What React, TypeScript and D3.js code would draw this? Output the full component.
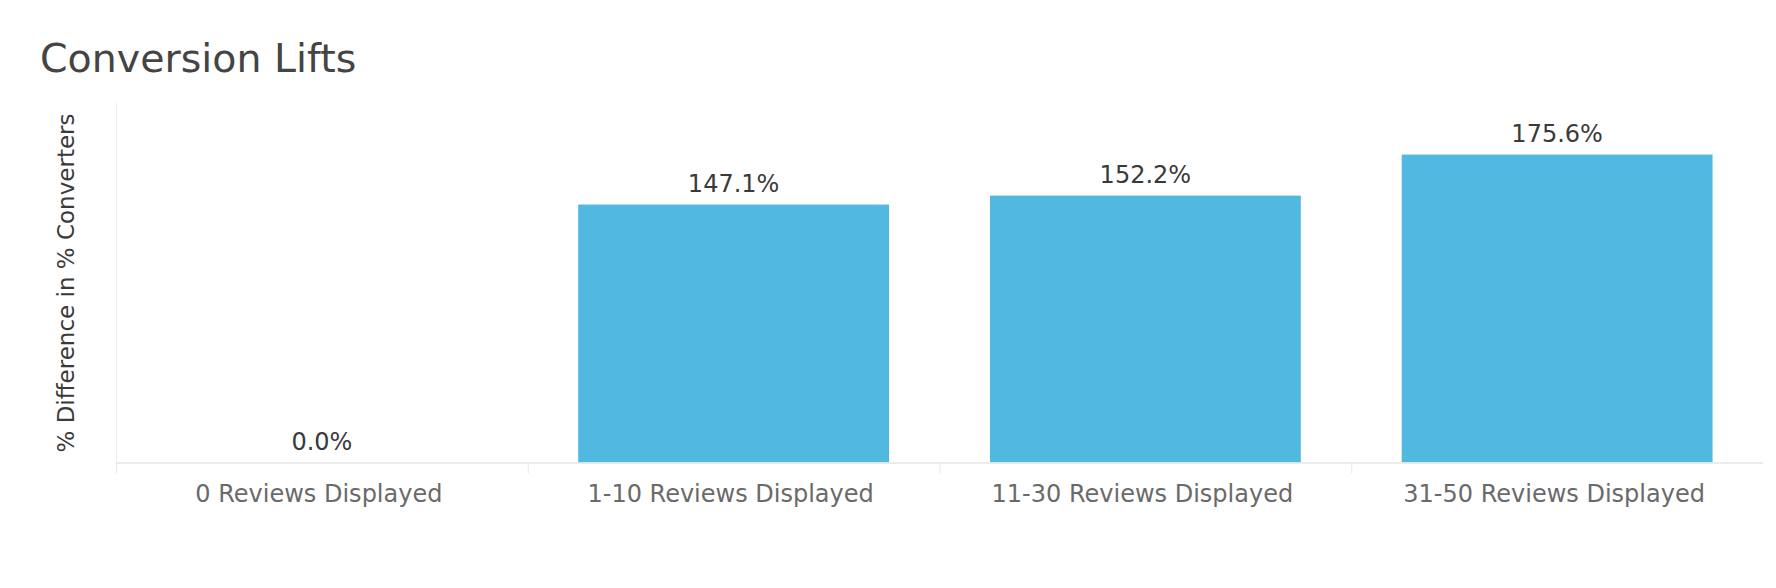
import React from "react";
import * as d3 from "d3";

const categories = ["0 Reviews Displayed", "1-10 Reviews Displayed", "11-30 Reviews Displayed", "31-50 Reviews Displayed"];
const values = [0.0, 147.1, 152.2, 175.6];
const title = "Conversion Lifts";
const yLabel = "% Difference in % Converters";

const W = 1776;
const H = 588;
const FONT = "'DejaVu Sans', Verdana, sans-serif";

export default function App() {
  const left = 116;
  const right = 1763;
  const top = 103;
  const base = 462.5;

  const x = d3.scaleBand<string>().domain(categories).range([left, right]).paddingInner(0.245).paddingOuter(0.1225);
  const y = d3.scaleLinear().domain([0, 205]).range([base, top]);
  const step = x.step();
  const dividers = d3.range(0, categories.length).map((i) => left + i * step);

  return (
    <svg width={W} height={H} style={{ position: "absolute", left: 0, top: 0, background: "#fff" }}>
      <text x={40} y={72} fontFamily={FONT} fontSize={39.5} fill="#444">{title}</text>
      <text
        transform={`translate(${74},${283}) rotate(-90)`}
        textAnchor="middle"
        fontFamily={FONT}
        fontSize={23}
        fill="#3a3a3a"
      >
        {yLabel}
      </text>
      <line x1={left + 0.5} x2={left + 0.5} y1={top} y2={base} stroke="#ececec" strokeWidth={1} />
      {values.map((v, i) => (
        <rect
          key={i}
          x={x(categories[i])!}
          y={y(v)}
          width={x.bandwidth()}
          height={base - y(v)}
          fill="#51b8e0"
        />
      ))}
      <line x1={left} x2={right} y1={base + 0.5} y2={base + 0.5} stroke="#e6e6e6" strokeWidth={1.5} />
      {dividers.map((d, i) => (
        <line key={i} x1={d + 0.5} x2={d + 0.5} y1={base} y2={base + 11} stroke="#e6e6e6" strokeWidth={1} />
      ))}
      {values.map((v, i) => (
        <text
          key={i}
          x={x(categories[i])! + x.bandwidth() / 2}
          y={y(v) - 13}
          textAnchor="middle"
          fontFamily={FONT}
          fontSize={24}
          fill="#3a3a3a"
        >
          {d3.format(".1f")(v) + "%"}
        </text>
      ))}
      {categories.map((c, i) => (
        <text
          key={i}
          x={x(c)! + x.bandwidth() / 2 - 3}
          y={502}
          textAnchor="middle"
          fontFamily={FONT}
          fontSize={24}
          fill="#6a6a6a"
        >
          {c}
        </text>
      ))}
    </svg>
  );
}
